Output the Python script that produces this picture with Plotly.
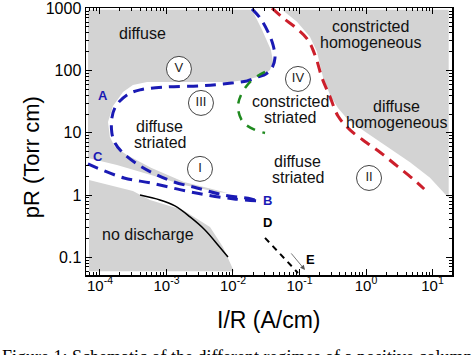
import math
import plotly.graph_objects as go

# ---- data (I/R in A/cm, pR in Torr cm), read from the schematic ----
grey_ul_x = [6.6e-5, 1.8e-2, 2.0e-2, 2.73e-2, 3.72e-2, 4.0e-2, 3.6e-2, 2.73e-2, 1.51e-2, 9.0e-3,
             1.6e-3, 5.1e-4, 3.13e-4, 2.22e-4, 1.57e-4, 1.32e-4, 1.41e-4, 1.68e-4, 2.55e-4, 5.85e-4,
             1.83e-3, 5.74e-3, 8.41e-3, 5.74e-3, 1.83e-3, 5.85e-4, 1.8e-4, 6.6e-5]
grey_ul_y = [940, 940, 873, 449, 214, 137, 102, 81.7, 70.5, 65.4,
             65.4, 65.4, 58.6, 45.2, 27.0, 14.9, 8.57, 5.92, 4.40, 2.73,
             1.62, 1.21, 1.08, 1.12, 1.45, 2.10, 3.04, 3.94]

grey_ur_x = [5.46e-2, 9.17e-2, 0.144, 0.183, 0.225, 0.288, 0.379, 0.536, 1.035, 2.07, 4.59, 9.17, 17.5, 17.5]
grey_ur_y = [940, 603, 346, 199, 78.8, 40.5, 25.0, 16.1, 9.93, 5.92, 3.35, 1.9, 0.898, 940]

grey_nd_x = [6.84e-5, 3.13e-4, 5.65e-4, 1.77e-3, 4.51e-3, 7.07e-3, 9.66e-3, 1.035e-2, 6.84e-5]
grey_nd_y = [1.75, 1.16, 0.834, 0.577, 0.307, 0.147, 0.070, 0.060, 0.060]

line_a_x = [1.93e-2, 2.55e-2, 3.36e-2, 4.0e-2, 4.28e-2, 3.86e-2, 3.13e-2, 2.38e-2, 1.62e-2, 7.07e-3,
            3.19e-3, 1.02e-3, 4.0e-4, 2.55e-4, 1.74e-4, 1.51e-4, 1.51e-4, 1.68e-4, 2.22e-4, 4.0e-4,
            7.2e-4, 1.30e-3, 2.87e-3, 7.32e-3, 1.87e-2, 2.38e-2]
line_a_y = [975, 698, 416, 257, 159, 110, 88.1, 78.8, 67.9, 60.8,
            56.5, 54.5, 48.8, 40.5, 27.0, 17.3, 9.93, 6.86, 4.74, 2.93,
            2.10, 1.62, 1.30, 1.0, 0.866, 0.804]

line_c_x = [6.6e-5, 9.0e-5, 2.30e-4, 5.85e-4, 1.65e-3, 4.06e-3, 1.035e-2, 2.30e-2]
line_c_y = [3.16, 2.73, 1.88, 1.56, 1.21, 1.0, 0.866, 0.804]

line_green_x = [3.03e-2, 1.93e-2, 1.32e-2, 1.19e-2, 1.41e-2, 2.14e-2, 3.03e-2]
line_green_y = [94.8, 70.5, 40.5, 25.0, 14.9, 11.1, 9.93]

line_red_x = [3.86e-2, 5.65e-2, 8.86e-2, 0.134, 0.177, 0.218, 0.288, 0.379, 0.574, 1.035, 1.68, 2.92, 5.09, 7.5]
line_red_y = [1000, 698, 483, 310, 159, 75.9, 37.6, 18.6, 11.1, 6.86, 4.74, 2.93, 1.81, 1.25]

line_black_x = [4.0e-4, 7.98e-4, 1.34e-3, 2.26e-3, 3.79e-3, 5.94e-3, 8.41e-3]
line_black_y = [1.0, 0.834, 0.668, 0.445, 0.275, 0.158, 0.101]

line_de_x = [3.03e-2, 9.49e-2]
line_de_y = [0.205, 0.0561]

arrow_tail = (7.2e-2, 0.122)
arrow_head = (0.121, 0.0627)

regime_labels = ["V", "III", "I", "IV", "II"]
regime_x = [1.54e-3, 3.30e-3, 3.19e-3, 9.49e-2, 1.11]
regime_y = [106, 30.1, 2.63, 73.1, 1.88]

region_texts = [["diffuse"], ["diffuse", "striated"], ["constricted", "homogeneous"],
                ["constricted", "striated"], ["diffuse", "homogeneous"], ["diffuse", "striated"],
                ["no discharge"]]
region_x = [4.43e-4, 7.98e-4, 1.15, 7.2e-2, 2.92, 9.49e-2, 5.27e-4]
region_y = [387, 9.22, 373, 23.2, 19.3, 2.53, 0.229]

point_labels = ["A", "B", "C", "D", "E"]
point_x = [1.11e-4, 3.36e-2, 9.33e-5, 3.36e-2, 0.144]
point_y = [39.0, 0.804, 4.09, 0.356, 0.0906]
point_colors = ["#1a1ab4", "#1a1ab4", "#1a1ab4", "black", "black"]

x_tickvals = [1e-4, 1e-3, 1e-2, 1e-1, 1e0, 1e1]
x_ticktext = ["10<sup>-4</sup>", "10<sup>-3</sup>", "10<sup>-2</sup>", "10<sup>-1</sup>",
              "10<sup>0</sup>", "10<sup>1</sup>"]
y_tickvals = [0.1, 1, 10, 100, 1000]
y_ticktext = ["0.1", "1", "10", "100", "1000"]

GREY = "#d3d3d3"
BLUE = "#1a1ab4"
RED = "#cc1f2b"
GREEN = "#1f8a1f"
FONT = "Liberation Sans, Arial, sans-serif"

fig = go.Figure()

for gx, gy in [(grey_ul_x, grey_ul_y), (grey_ur_x, grey_ur_y), (grey_nd_x, grey_nd_y)]:
    fig.add_trace(go.Scatter(x=gx, y=gy, fill="toself", fillcolor=GREY, mode="lines",
                             line=dict(width=0, color=GREY), hoverinfo="skip"))

fig.add_trace(go.Scatter(x=line_black_x, y=line_black_y, mode="lines",
                         line=dict(color="black", width=1.5), line_shape="spline"))
fig.add_trace(go.Scatter(x=line_a_x, y=line_a_y, mode="lines", line_shape="spline",
                         line=dict(color=BLUE, width=3, dash="11px,7px")))
fig.add_trace(go.Scatter(x=line_c_x, y=line_c_y, mode="lines", line_shape="spline",
                         line=dict(color=BLUE, width=3, dash="11px,7px")))
fig.add_trace(go.Scatter(x=line_green_x, y=line_green_y, mode="lines", line_shape="spline",
                         line=dict(color=GREEN, width=2.5, dash="9px,8px")))
fig.add_trace(go.Scatter(x=line_red_x, y=line_red_y, mode="lines", line_shape="spline",
                         line=dict(color=RED, width=3, dash="11px,7px")))
fig.add_trace(go.Scatter(x=line_de_x, y=line_de_y, mode="lines",
                         line=dict(color="black", width=2, dash="6px,5px")))

fig.add_trace(go.Scatter(x=regime_x, y=regime_y, mode="markers+text", text=regime_labels,
                         textposition="middle center",
                         textfont=dict(family=FONT, size=13, color="#222"),
                         marker=dict(symbol="circle", size=25, color="white",
                                     line=dict(color="#444", width=1))))

annotations = []
for lines, xv, yv in zip(region_texts, region_x, region_y):
    n = len(lines)
    for i, t in enumerate(lines):
        annotations.append(dict(x=math.log10(xv), y=math.log10(yv), xref="x", yref="y",
                                text=t, showarrow=False, yshift=(n - 1) * 8 - i * 16,
                                xanchor="center", yanchor="middle",
                                font=dict(family=FONT, size=16, color="#111")))
for t, xv, yv, c in zip(point_labels, point_x, point_y, point_colors):
    annotations.append(dict(x=math.log10(xv), y=math.log10(yv), xref="x", yref="y",
                            text="<b>" + t + "</b>", showarrow=False,
                            xanchor="center", yanchor="middle",
                            font=dict(family=FONT, size=13, color=c)))
annotations.append(dict(x=math.log10(arrow_head[0]), y=math.log10(arrow_head[1]), xref="x", yref="y",
                        ax=math.log10(arrow_tail[0]), ay=math.log10(arrow_tail[1]),
                        axref="x", ayref="y", text="", showarrow=True, arrowhead=2,
                        arrowsize=1.2, arrowwidth=0.8, arrowcolor="#555"))
# axis titles and caption
annotations.append(dict(x=0.5, y=-0.169, xref="paper", yref="paper", text="I/R (A/cm)",
                        xanchor="center", yanchor="middle",
                        showarrow=False, font=dict(family=FONT, size=23, color="black")))
annotations.append(dict(x=-0.148, y=0.44, xref="paper", yref="paper", text="pR (Torr cm)",
                        xanchor="center", yanchor="middle",
                        textangle=-90, showarrow=False,
                        font=dict(family=FONT, size=22, color="black")))
annotations.append(dict(x=-0.235, y=-0.262, xref="paper", yref="paper", xanchor="left", yanchor="top",
                        text="Figure 1: Schematic of the different regimes of a positive column",
                        showarrow=False,
                        font=dict(family="Liberation Serif, Times New Roman, serif", size=18, color="black")))

minor_x = [m * 10.0 ** k for k in range(-5, 2) for m in range(2, 10)]
minor_y = [m * 10.0 ** k for k in range(-2, 3) for m in range(2, 10)]

fig.update_layout(
    width=474, height=355,
    margin=dict(l=86, r=22, t=8, b=80, autoexpand=False),
    plot_bgcolor="white", paper_bgcolor="white",
    showlegend=False, hovermode=False,
    annotations=annotations,
    xaxis=dict(type="log", range=[-4.21, 1.293], tickvals=x_tickvals, ticktext=x_ticktext,
               ticks="inside", ticklen=6, tickwidth=1, tickcolor="black",
               showline=True, linecolor="black", linewidth=1.5, mirror="ticks",
               showgrid=False, zeroline=False, automargin=False, ticklabelstandoff=-4,
               tickfont=dict(family=FONT, size=15, color="black"),
               minor=dict(tickmode="array", tickvals=minor_x, ticks="inside", ticklen=3,
                          tickcolor="black", showgrid=False)),
    yaxis=dict(type="log", range=[-1.284, 3.003], tickvals=y_tickvals, ticktext=y_ticktext,
               ticks="inside", ticklen=6, tickwidth=1, tickcolor="black",
               showline=True, linecolor="black", linewidth=1.5, mirror="ticks",
               showgrid=False, zeroline=False, automargin=False, ticklabeloverflow="allow",
               tickfont=dict(family=FONT, size=16, color="black"),
               minor=dict(tickmode="array", tickvals=minor_y, ticks="inside", ticklen=3,
                          tickcolor="black", showgrid=False)),
)

fig.write_html("out.html", config={"displayModeBar": False, "staticPlot": True},
               post_script="document.body.style.margin='0';document.body.style.padding='0';")
